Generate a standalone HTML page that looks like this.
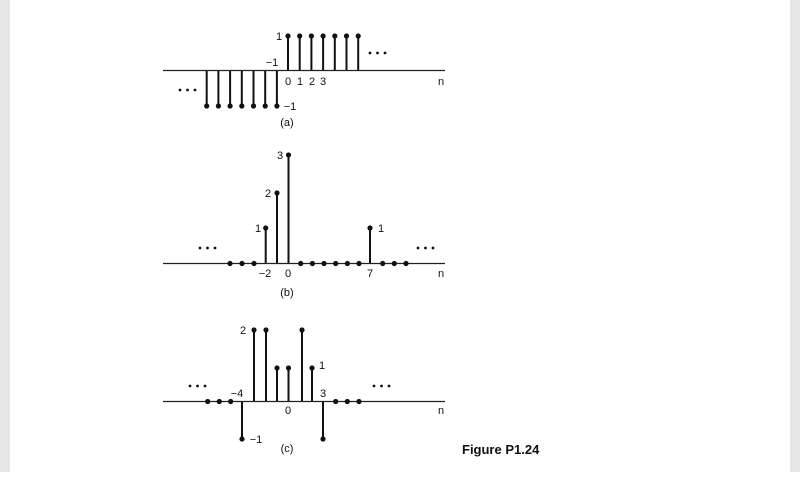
<!DOCTYPE html>
<html><head><meta charset="utf-8"><style>
html,body{margin:0;padding:0;background:#fff;}
body{width:800px;height:472px;overflow:hidden;}
</style></head><body>
<svg width="800" height="472" xmlns="http://www.w3.org/2000/svg" font-family="Liberation Sans, sans-serif" font-size="11" fill="#111">
<rect x="0" y="0" width="10" height="472" fill="#e6e8e6"/>
<rect x="790" y="0" width="10" height="472" fill="#e6e8e6"/>
<g stroke="#222" stroke-width="1.2">
<line x1="163" y1="70.5" x2="445" y2="70.5"/>
<line x1="163" y1="263.5" x2="445" y2="263.5"/>
<line x1="163" y1="401.5" x2="445" y2="401.5"/>
</g>
<g stroke="#111" stroke-width="2">
<line x1="288" y1="36" x2="288" y2="70"/><line x1="299.7" y1="36" x2="299.7" y2="70"/><line x1="311.4" y1="36" x2="311.4" y2="70"/><line x1="323.1" y1="36" x2="323.1" y2="70"/><line x1="334.8" y1="36" x2="334.8" y2="70"/><line x1="346.5" y1="36" x2="346.5" y2="70"/><line x1="358.2" y1="36" x2="358.2" y2="70"/>
<line x1="206.7" y1="71" x2="206.7" y2="106"/><line x1="218.4" y1="71" x2="218.4" y2="106"/><line x1="230.1" y1="71" x2="230.1" y2="106"/><line x1="241.8" y1="71" x2="241.8" y2="106"/><line x1="253.5" y1="71" x2="253.5" y2="106"/><line x1="265.2" y1="71" x2="265.2" y2="106"/><line x1="276.9" y1="71" x2="276.9" y2="106"/>
<line x1="265.7" y1="228" x2="265.7" y2="263"/><line x1="277" y1="193" x2="277" y2="263"/><line x1="288.5" y1="155" x2="288.5" y2="263"/><line x1="370" y1="228" x2="370" y2="263"/>
<line x1="254" y1="330" x2="254" y2="401"/><line x1="266" y1="330" x2="266" y2="401"/><line x1="277" y1="368" x2="277" y2="401"/><line x1="288.5" y1="368" x2="288.5" y2="401"/><line x1="302" y1="330" x2="302" y2="401"/><line x1="312" y1="368" x2="312" y2="401"/>
<line x1="242" y1="402" x2="242" y2="439"/><line x1="323" y1="402" x2="323" y2="439"/>
</g>
<g fill="#111">
<circle cx="288" cy="36" r="2.6"/><circle cx="299.7" cy="36" r="2.6"/><circle cx="311.4" cy="36" r="2.6"/><circle cx="323.1" cy="36" r="2.6"/><circle cx="334.8" cy="36" r="2.6"/><circle cx="346.5" cy="36" r="2.6"/><circle cx="358.2" cy="36" r="2.6"/>
<circle cx="206.7" cy="106" r="2.6"/><circle cx="218.4" cy="106" r="2.6"/><circle cx="230.1" cy="106" r="2.6"/><circle cx="241.8" cy="106" r="2.6"/><circle cx="253.5" cy="106" r="2.6"/><circle cx="265.2" cy="106" r="2.6"/><circle cx="276.9" cy="106" r="2.6"/>
<circle cx="230" cy="263.5" r="2.6"/><circle cx="242" cy="263.5" r="2.6"/><circle cx="254" cy="263.5" r="2.6"/>
<circle cx="265.7" cy="228" r="2.6"/><circle cx="277" cy="193" r="2.6"/><circle cx="288.5" cy="155" r="2.6"/>
<circle cx="300.7" cy="263.5" r="2.6"/><circle cx="312.4" cy="263.5" r="2.6"/><circle cx="324" cy="263.5" r="2.6"/><circle cx="335.7" cy="263.5" r="2.6"/><circle cx="347.4" cy="263.5" r="2.6"/><circle cx="359" cy="263.5" r="2.6"/>
<circle cx="370" cy="228" r="2.6"/>
<circle cx="382.7" cy="263.5" r="2.6"/><circle cx="394.3" cy="263.5" r="2.6"/><circle cx="406" cy="263.5" r="2.6"/>
<circle cx="207.7" cy="401.5" r="2.6"/><circle cx="219.3" cy="401.5" r="2.6"/><circle cx="230.7" cy="401.5" r="2.6"/>
<circle cx="254" cy="330" r="2.6"/><circle cx="266" cy="330" r="2.6"/><circle cx="277" cy="368" r="2.6"/><circle cx="288.5" cy="368" r="2.6"/><circle cx="302" cy="330" r="2.6"/><circle cx="312" cy="368" r="2.6"/>
<circle cx="242" cy="439" r="2.6"/><circle cx="323" cy="439" r="2.6"/>
<circle cx="335.7" cy="401.5" r="2.6"/><circle cx="347.3" cy="401.5" r="2.6"/><circle cx="359" cy="401.5" r="2.6"/>
<!-- ellipses -->
<circle cx="180" cy="90" r="1.4"/><circle cx="187.5" cy="90" r="1.4"/><circle cx="195" cy="90" r="1.4"/>
<circle cx="370" cy="53" r="1.4"/><circle cx="377.5" cy="53" r="1.4"/><circle cx="385" cy="53" r="1.4"/>
<circle cx="200" cy="248" r="1.4"/><circle cx="207.5" cy="248" r="1.4"/><circle cx="215" cy="248" r="1.4"/>
<circle cx="418" cy="248" r="1.4"/><circle cx="425.5" cy="248" r="1.4"/><circle cx="433" cy="248" r="1.4"/>
<circle cx="190" cy="386" r="1.4"/><circle cx="197.5" cy="386" r="1.4"/><circle cx="205" cy="386" r="1.4"/>
<circle cx="374" cy="386" r="1.4"/><circle cx="381.5" cy="386" r="1.4"/><circle cx="389" cy="386" r="1.4"/>
</g>
<g text-anchor="middle">
<text x="279" y="40">1</text>
<text x="272" y="66">−1</text>
<text x="288" y="85">0</text><text x="300" y="85">1</text><text x="312" y="85">2</text><text x="323" y="85">3</text>
<text x="441" y="85">n</text>
<text x="290" y="110">−1</text>
<text x="287" y="126">(a)</text>
<text x="258" y="232">1</text><text x="268" y="197">2</text><text x="280" y="159">3</text>
<text x="381" y="232">1</text>
<text x="265" y="277">−2</text><text x="288" y="277">0</text><text x="370" y="277">7</text><text x="441" y="277">n</text>
<text x="287" y="296">(b)</text>
<text x="243" y="334">2</text><text x="322" y="369">1</text>
<text x="237" y="397">−4</text><text x="323" y="397">3</text>
<text x="288" y="414">0</text><text x="441" y="414">n</text>
<text x="256" y="443">−1</text>
<text x="287" y="452">(c)</text>
</g>
<text x="462" y="454" font-size="13" font-weight="bold">Figure P1.24</text>
</svg>
</body></html>
